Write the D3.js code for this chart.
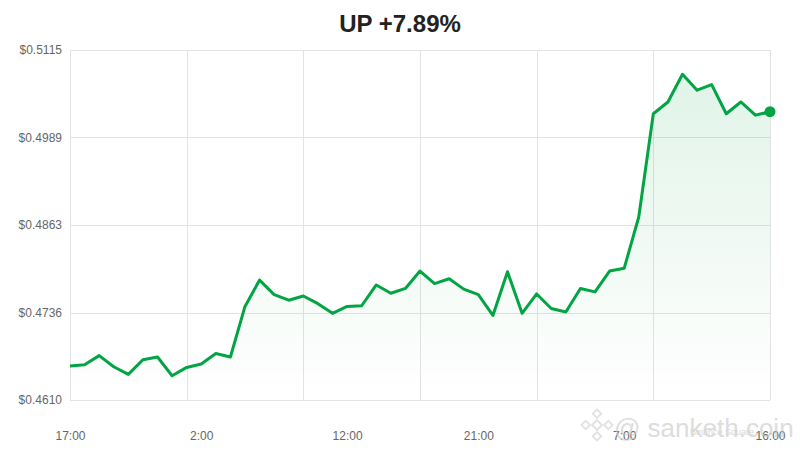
<!DOCTYPE html>
<html lang="en">
<head>
<meta charset="utf-8">
<title>UP +7.89%</title>
<script src="https://d3js.org/d3.v7.min.js"></script>
<style>
  body { margin: 0; background: #fff; }
  .grid line { stroke: #e3e3e3; stroke-width: 1px; shape-rendering: crispEdges; }
  .grid path { display: none; }
  .axis text { font-family: "Liberation Sans", Arial, sans-serif; font-size: 12px; fill: #666; }
  .axis path, .axis line { display: none; }
</style>
</head>
<body>
<div id="chart"></div>
<script>
// price points, one every step
var prices = [
  0.4659, 0.4661, 0.4674, 0.4658, 0.4647, 0.4668, 0.4672, 0.4645, 0.4657, 0.4662,
  0.4677, 0.4672, 0.4745, 0.4783, 0.4762, 0.4754, 0.4760, 0.4749, 0.4735, 0.4745,
  0.4746, 0.4776, 0.4764, 0.4771, 0.4796, 0.4778, 0.4785, 0.4770, 0.4762, 0.4732,
  0.4795, 0.4735, 0.4763, 0.4742, 0.4737, 0.4771, 0.4766, 0.4796, 0.4800, 0.4874,
  0.5023, 0.5040, 0.5080, 0.5057, 0.5065, 0.5023, 0.5040, 0.5021, 0.5026
]
var timeLabels = ["17:00", "2:00", "12:00", "21:00", "7:00", "16:00"]
var timeLabelIdx = [0, 9, 19, 28, 38, 48]
var yTicks = [0.4610, 0.4736, 0.4863, 0.4989, 0.5115]
var title = "UP +7.89%"

drawChart()

function drawChart() {
  var w = 800
  var h = 450
  var pLeft = 70, pRight = 770, pTop = 50, pBottom = 400
  var green = "#03a443"

  var svg = d3.select("#chart").append("svg")
    .attr("width", w)
    .attr("height", h)

  var xScale = d3.scaleLinear()
    .domain([0, prices.length - 1])
    .range([pLeft, pRight])

  var yScale = d3.scaleLinear()
    .domain([yTicks[0], yTicks[yTicks.length - 1]])
    .range([pBottom, pTop])

  // gradient under the line
  var grad = svg.append("defs").append("linearGradient")
    .attr("id", "fillGrad")
    .attr("gradientUnits", "userSpaceOnUse")
    .attr("x1", 0).attr("y1", pTop)
    .attr("x2", 0).attr("y2", pBottom)
  grad.append("stop").attr("offset", "0%").attr("stop-color", green).attr("stop-opacity", 0.13)
  grad.append("stop").attr("offset", "100%").attr("stop-color", green).attr("stop-opacity", 0.0)

  // horizontal grid
  svg.append("g")
    .attr("class", "grid")
    .attr("transform", "translate(" + pLeft + ",0)")
    .call(d3.axisLeft(yScale).tickValues(yTicks).tickSize(-(pRight - pLeft)).tickFormat(""))

  // vertical grid, 6 even columns
  svg.append("g")
    .attr("class", "grid")
    .attr("transform", "translate(0," + pBottom + ")")
    .call(d3.axisBottom(xScale).tickValues(d3.range(0, prices.length, 8)).tickSize(-(pBottom - pTop)).tickFormat(""))

  // area + line
  var area = d3.area()
    .x(function(d, i) { return xScale(i) })
    .y0(pBottom)
    .y1(function(d) { return yScale(d) })

  var line = d3.line()
    .x(function(d, i) { return xScale(i) })
    .y(function(d) { return yScale(d) })

  svg.append("path")
    .datum(prices)
    .attr("d", area)
    .attr("fill", "url(#fillGrad)")

  svg.append("path")
    .datum(prices)
    .attr("d", line)
    .attr("fill", "none")
    .attr("stroke", green)
    .attr("stroke-width", 3)
    .attr("stroke-linejoin", "round")

  // last point dot
  svg.append("circle")
    .attr("cx", xScale(prices.length - 1))
    .attr("cy", yScale(prices[prices.length - 1]))
    .attr("r", 5.5)
    .attr("fill", green)

  // y axis labels
  svg.append("g")
    .attr("class", "axis")
    .attr("transform", "translate(" + (pLeft - 8) + ",0)")
    .call(d3.axisLeft(yScale).tickValues(yTicks).tickSize(0)
      .tickFormat(function(d) { return "$" + d.toFixed(4) }))
    .selectAll("text").attr("dy", "0.32em").attr("x", 0)

  // x axis labels
  svg.append("g")
    .attr("class", "axis")
    .attr("transform", "translate(0," + (pBottom + 28) + ")")
    .call(d3.axisBottom(xScale).tickValues(timeLabelIdx).tickSize(0)
      .tickFormat(function(d, i) { return timeLabels[i] }))

  // watermark
  var wm = svg.append("g").attr("opacity", 0.6)
  var logo = wm.append("g").attr("transform", "translate(597,425) rotate(45)")
  logo.append("rect").attr("x", -3.5).attr("y", -3.5).attr("width", 7).attr("height", 7)
    .attr("fill", "none").attr("stroke", "#cfcfcf").attr("stroke-width", 2)
  ;[[-8, -8], [8, 8], [-8, 8], [8, -8]].forEach(function(p) {
    logo.append("rect").attr("x", p[0] - 3).attr("y", p[1] - 3).attr("width", 6).attr("height", 6)
      .attr("fill", "none").attr("stroke", "#cfcfcf").attr("stroke-width", 1.8)
  })
  wm.append("text")
    .attr("x", 614).attr("y", 437)
    .style("font-family", "Liberation Sans, Arial, sans-serif")
    .style("font-size", "26px")
    .style("fill", "#c8c8c8")
    .text("@ sanketh.coin")
  wm.append("text")
    .attr("x", 690).attr("y", 435)
    .style("font-family", "Liberation Sans, Arial, sans-serif")
    .style("font-size", "9px")
    .style("fill", "#bdbdbd")
    .text("Binance Square")

  // title
  svg.append("text")
    .attr("x", w / 2)
    .attr("y", 32)
    .attr("text-anchor", "middle")
    .style("font-family", "Liberation Sans, Arial, sans-serif")
    .style("font-size", "24px")
    .style("font-weight", "bold")
    .style("fill", "#222")
    .text(title)
}
</script>
</body>
</html>
